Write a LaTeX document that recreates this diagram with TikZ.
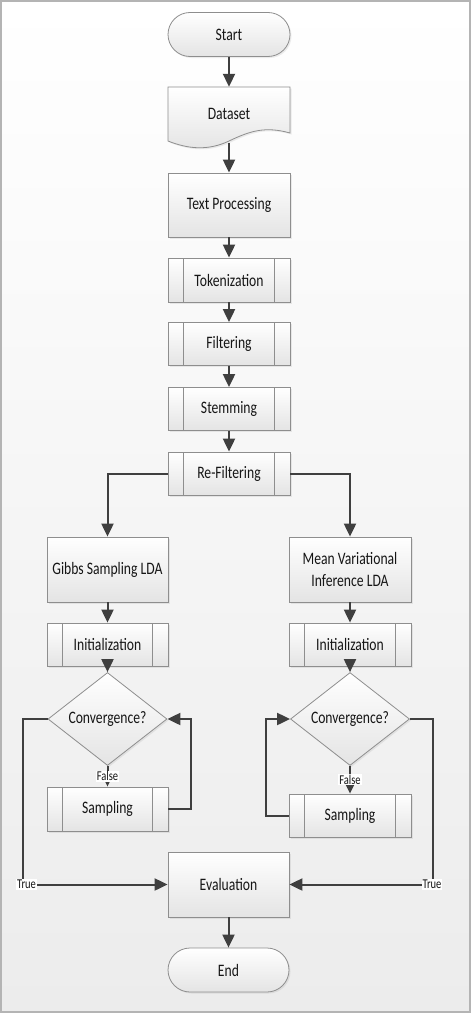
\documentclass[tikz,border=0pt]{standalone}
\usepackage{fontspec}
\setmainfont{Carlito}[FakeStretch=0.78]
\usetikzlibrary{arrows.meta,shapes.geometric,shadows}
\definecolor{linec}{HTML}{3F3F3F}
\definecolor{bordc}{HTML}{8E8E8E}
\definecolor{bgbot}{HTML}{ECECEC}
\definecolor{txtc}{HTML}{161616}
\definecolor{framec}{HTML}{B4B4B4}
\definecolor{boxbot}{HTML}{E4E4E4}
\begin{document}
\begin{tikzpicture}[x=1pt,y=-1pt,
  boxfill/.style={draw=bordc, line width=0.8pt, top color=white, bottom color=boxbot,
    drop shadow={opacity=0.15, shadow xshift=1.5pt, shadow yshift=-1.5pt}},
  box/.style={boxfill, minimum width=122pt, minimum height=44pt, inner sep=2pt,
    font=\fontsize{17.5}{22.5}\selectfont, text=txtc, align=center},
  predef/.style={box, path picture={
    \draw[bordc, line width=0.8pt]
      ([xshift=15.5pt]path picture bounding box.north west) -- ([xshift=15.5pt]path picture bounding box.south west)
      ([xshift=-15.5pt]path picture bounding box.north east) -- ([xshift=-15.5pt]path picture bounding box.south east);}},
  term/.style={box, rounded corners=22pt},
  dec/.style={box, diamond, minimum width=119pt, minimum height=64pt, inner sep=0pt},
  lab/.style={fill=white, inner sep=1pt, font=\fontsize{13.5}{15}\selectfont, text=txtc},
  arr/.style={draw=linec, line width=2pt, -{Triangle[length=13pt,width=12pt]}},
  ln/.style={draw=linec, line width=2pt}]
\useasboundingbox (0,0) rectangle (474,1017);
\fill[white] (0,0) rectangle (474,1017);
\path[top color=white, bottom color=bgbot, draw=framec, line width=2pt] (1,1) rectangle (469.5,1012);

% main column
\node[term] (start) at (229,34.5) {Start};
\path[boxfill] (168,87) -- (290,87) -- (290,133)
  .. controls (265,126) and (250,131) .. (229,141)
  .. controls (208,151) and (188,149) .. (168,141) -- cycle;
\node[font=\fontsize{17.5}{22.5}\selectfont, text=txtc, minimum width=122pt, minimum height=56pt, inner sep=0pt] (dataset) at (229,115) {\raisebox{3pt}{Dataset}};
\node[box, minimum height=64pt] (textproc) at (229,205) {Text Processing};
\node[predef] (tok) at (229,280) {Tokenization};
\node[predef, minimum height=43pt] (filt) at (229,344) {Filtering};
\node[predef, minimum height=43pt] (stem) at (229,409) {Stemming};
\node[predef, minimum height=43pt] (refilt) at (229,473.5) {Re-Filtering};

% left branch
\node[box, minimum width=121pt, minimum height=65pt] (gibbs) at (107.5,569.5) {Gibbs Sampling LDA};
\node[predef, minimum width=121pt, minimum height=43pt] (linit) at (107.5,644.5) {Initialization};
\node[dec] (lconv) at (107.5,719) {Convergence?};
\node[predef, minimum width=121pt] (lsamp) at (107.5,809) {Sampling};

% right branch
\node[box, minimum height=65pt] (mvi) at (350,569.5) {Mean Variational\\Inference LDA};
\node[predef, minimum height=43pt] (rinit) at (350,644.5) {Initialization};
\node[dec] (rconv) at (350,719) {Convergence?};
\node[predef, minimum height=43pt] (rsamp) at (350,815.5) {Sampling};

% bottom
\node[box, minimum width=121pt, minimum height=65pt] (eval) at (228.5,884.5) {Evaluation};
\node[term, minimum width=121pt] (end) at (228.5,970) {End};

% connectors
\draw[arr] (start.south) -- (start.south |- dataset.north);
\draw[arr] (dataset.south) -- (textproc.north);
\draw[arr] (textproc.south) -- (tok.north);
\draw[arr] (tok.south) -- (filt.north);
\draw[arr] (filt.south) -- (stem.north);
\draw[arr] (stem.south) -- (refilt.north);
\draw[arr] (refilt.west) -| (gibbs.north);
\draw[arr] (refilt.east) -| (mvi.north);
\draw[arr] (gibbs.south) -- (linit.north);
\draw[arr] (linit.south) -- (lconv.north);
\draw[arr] (lconv.south) -- node[lab] (lfalse) {False} (lsamp.north);
\draw[arr] (lsamp.east) -- ++(23,0) |- (lconv.east);
\draw[arr] (mvi.south) -- (rinit.north);
\draw[arr] (rinit.south) -- (rconv.north);
\draw[arr] (rconv.south) -- node[lab] (rfalse) {False} (rsamp.north);
\draw[arr] (rsamp.west) -- ++(-23,0) |- (rconv.west);

\coordinate (ltc) at (23,884.5);
\coordinate (rtc) at (433,884.5);
\draw[arr] (lconv.west) -| (ltc) -- (eval.west);
\draw[arr] (rconv.east) -| (rtc) -- (eval.east);
\node[lab] (ltrue) at (26.5,884.5) {True};
\node[lab] (rtrue) at (432,884.5) {True};
\draw[arr] (eval.south) -- (end.north);
\end{tikzpicture}
\end{document}
